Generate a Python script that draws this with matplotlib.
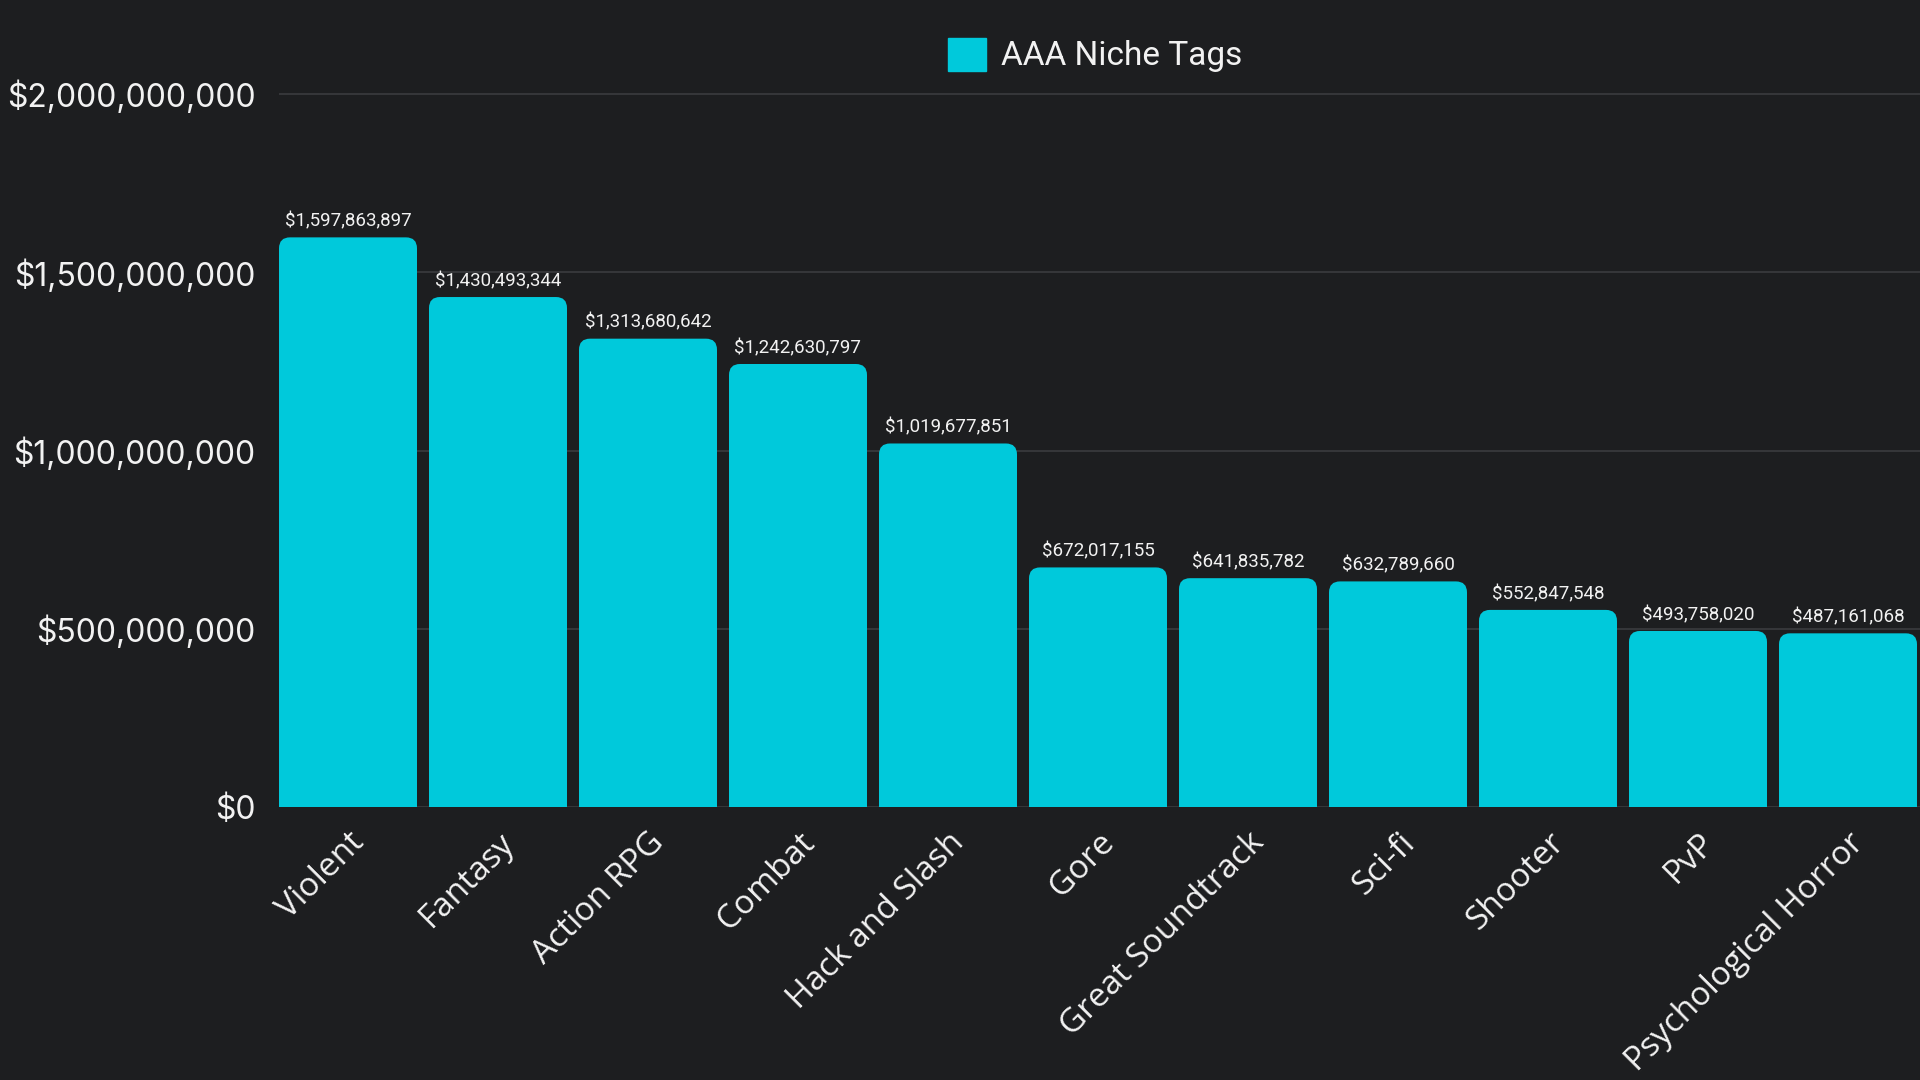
import matplotlib
matplotlib.use("Agg")
import matplotlib.pyplot as plt
from matplotlib.patches import FancyBboxPatch
from matplotlib.ticker import FuncFormatter, MultipleLocator

categories = ["Violent", "Fantasy", "Action RPG", "Combat", "Hack and Slash", "Gore",
              "Great Soundtrack", "Sci-fi", "Shooter", "PvP", "Psychological Horror"]
revenue = [1597863897, 1430493344, 1313680642, 1242630797, 1019677851, 672017155,
           641835782, 632789660, 552847548, 493758020, 487161068]
series_name = "AAA Niche Tags"

BG = "#1d1e20"
BAR = "#00c9db"
GRID = "#3b3c3f"
TXT = "#f2f2f2"
NUMFONT = ["Roboto", "DejaVu Sans"]
TICKFONT = ["Inter", "Roboto", "DejaVu Sans"]
CATFONT = ["Open Sans", "DejaVu Sans"]

W, H = 1920, 1080
fig = plt.figure(figsize=(W / 100, H / 100), dpi=100, facecolor=BG)
ax = fig.add_axes([279 / W, 1 - 807 / H, 1641 / W, 784.3 / H])
ax.set_facecolor(BG)

x = list(range(len(categories)))
bars = ax.bar(x, revenue, width=0.92, color=BAR, label=series_name, zorder=3)
ax.set_xlim(-0.46, 10.48)
ax.set_ylim(0, 2.2e9)

# rounded top corners
fig.canvas.draw()
inv = ax.transData.inverted()
p0 = inv.transform((0, 0))
p1 = inv.transform((1, 1))
xpp = p1[0] - p0[0]
ypp = p1[1] - p0[1]
r_px = 11
for b in bars:
    b.set_visible(False)
    bx, bw, bh = b.get_x(), b.get_width(), b.get_height()
    ext = 30 * ypp
    patch = FancyBboxPatch((bx, -ext), bw, bh + ext,
                           boxstyle=f"round,pad=0,rounding_size={r_px * xpp}",
                           mutation_aspect=ypp / xpp,
                           facecolor=BAR, edgecolor="none", zorder=3,
                           clip_on=True)
    ax.add_patch(patch)

for xi, v in zip(x, revenue):
    ax.annotate(f"${v:,.0f}", (xi, v), xytext=(0, 16), textcoords="offset pixels",
                ha="center", va="center", color=TXT, fontsize=13.5, family=NUMFONT,
                zorder=4)

ax.yaxis.set_major_locator(MultipleLocator(5e8))
ax.yaxis.set_major_formatter(FuncFormatter(lambda v, p: f"${v:,.0f}"))
ax.grid(axis="y", color=GRID, linewidth=1.2, zorder=1)
ax.set_axisbelow(True)
for s in ax.spines.values():
    s.set_visible(False)
ax.tick_params(axis="y", length=0, pad=17, labelcolor=TXT, labelsize=23)
for lab in ax.get_yticklabels():
    lab.set_family(TICKFONT)

ax.set_xticks(x)
ax.set_xticklabels(categories, rotation=45, ha="right", va="top",
                   rotation_mode="anchor", family=CATFONT, fontsize=24, color=TXT)
ax.tick_params(axis="x", length=0, pad=14)

leg = fig.legend(handles=[plt.Rectangle((0, 0), 1, 1, color=BAR)], labels=[series_name],
                 loc="center", bbox_to_anchor=(1095 / W, 1 - 55 / H), frameon=False,
                 prop={"family": NUMFONT, "size": 24}, handlelength=1.15,
                 handleheight=1.15, handletextpad=0.45, labelcolor=TXT)

fig.savefig("out.png", dpi=100, facecolor=BG)
